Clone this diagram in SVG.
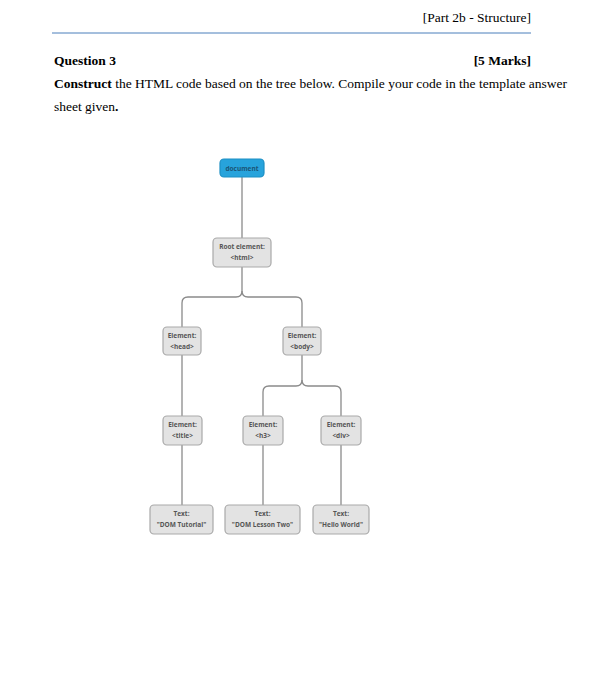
<svg xmlns="http://www.w3.org/2000/svg" width="613" height="683" viewBox="0 0 613 683">
<style>
.t{font-family:"Liberation Serif",serif;font-size:13.5px;fill:#000}
.b{font-weight:bold}
.n rect{fill:#e3e3e3;stroke:#a9a9a9;stroke-width:1.2}
.n text{font-family:"Open Sans","DejaVu Sans",sans-serif;font-size:6.5px;font-weight:bold;fill:#555;text-anchor:middle}
.c path{fill:none;stroke:#8a8a8a;stroke-width:1.3}
</style>
<rect width="613" height="683" fill="#fff"/>
<text class="t" x="531" y="22" text-anchor="end" font-size="11">[Part 2b - Structure]</text>
<line x1="52" y1="33" x2="531" y2="33" stroke="#4a7ebb" stroke-width="1"/>
<text class="t b" x="54" y="65">Question 3</text>
<text class="t b" x="531" y="65" text-anchor="end">[5 Marks]</text>
<text class="t" x="54" y="88"><tspan class="b">Construct</tspan> the HTML code based on the tree below. Compile your code in the template answer</text>
<text class="t" x="54" y="111">sheet given<tspan class="b">.</tspan></text>
<g class="c">
<path d="M242 177 V238"/>
<path d="M242 267 V291 Q242 297 236 297 H188 Q182 297 182 303 V327"/>
<path d="M242 291 Q242 297 248 297 H296 Q302 297 302 303 V327"/>
<path d="M182 355 V416"/>
<path d="M302 355 V380 Q302 386 296 386 H269 Q263 386 263 392 V416"/>
<path d="M302 380 Q302 386 308 386 H335 Q341 386 341 392 V416"/>
<path d="M182 445 V505"/>
<path d="M263 445 V505"/>
<path d="M341 445 V505"/>
</g>
<g id="document" class="n"><rect x="220" y="159" width="44" height="18" rx="4" style="fill:#27a3dc;stroke:#1d8fc4"/><text x="242" y="170.5" style="fill:#1a5577">document</text></g>
<g id="html" class="n"><rect x="213" y="238" width="58" height="29" rx="4"/><text x="242" y="249">Root element:</text><text x="242" y="260">&lt;html&gt;</text></g>
<g id="head" class="n"><rect x="163" y="327" width="38" height="28" rx="4"/><text x="182" y="338">Element:</text><text x="182" y="349">&lt;head&gt;</text></g>
<g id="body" class="n"><rect x="283" y="327" width="38" height="28" rx="4"/><text x="302" y="338">Element:</text><text x="302" y="349">&lt;body&gt;</text></g>
<g id="title" class="n"><rect x="163" y="416" width="39" height="29" rx="4"/><text x="182.5" y="427">Element:</text><text x="182.5" y="438">&lt;title&gt;</text></g>
<g id="h3" class="n"><rect x="243" y="416" width="40" height="29" rx="4"/><text x="263" y="427">Element:</text><text x="263" y="438">&lt;h3&gt;</text></g>
<g id="div" class="n"><rect x="321" y="416" width="40" height="29" rx="4"/><text x="341" y="427">Element:</text><text x="341" y="438">&lt;div&gt;</text></g>
<g id="t1" class="n"><rect x="150" y="505" width="63" height="29" rx="4"/><text x="181.5" y="516">Text:</text><text x="181.5" y="527">"DOM Tutorial"</text></g>
<g id="t2" class="n"><rect x="225" y="505" width="75" height="29" rx="4"/><text x="262.5" y="516">Text:</text><text x="262.5" y="527">"DOM Lesson Two"</text></g>
<g id="t3" class="n"><rect x="313" y="505" width="56" height="29" rx="4"/><text x="341" y="516">Text:</text><text x="341" y="527">"Hello World"</text></g>
</svg>
